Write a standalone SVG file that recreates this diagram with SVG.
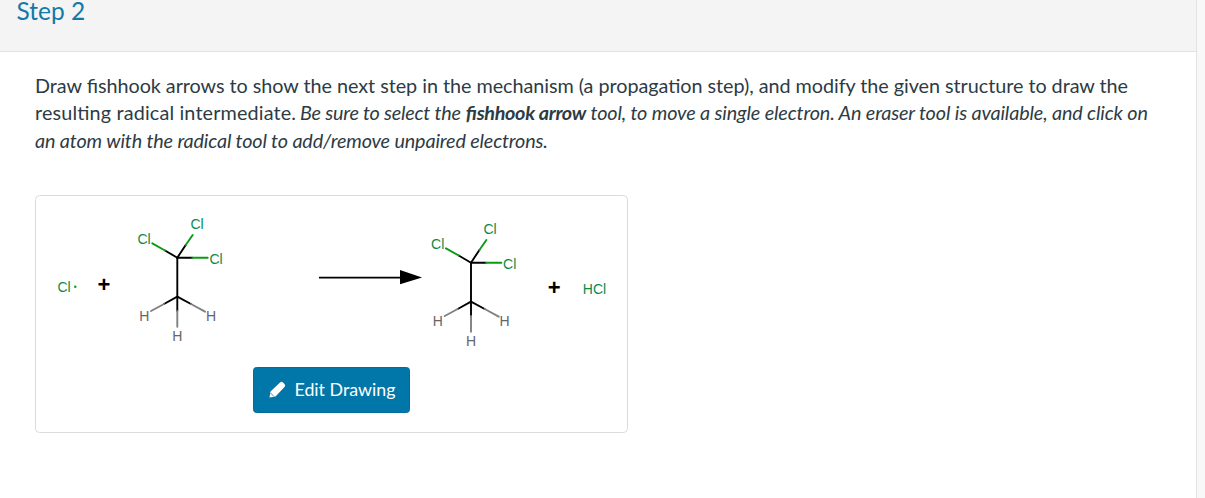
<svg xmlns="http://www.w3.org/2000/svg" width="1205" height="498" viewBox="0 0 1205 498">
<style>
text{font-family:Lato,"Liberation Sans",sans-serif}
.p{font-size:19.8px;fill:#2d3b45}
.i{font-style:italic}
.c{font-family:"Liberation Sans",Arial,sans-serif;font-size:14px;fill:#0b8a4a;text-anchor:middle}
.h{font-family:"Liberation Sans",Arial,sans-serif;font-size:14px;fill:#666;text-anchor:middle}
.k{stroke:#000;stroke-width:1.9;fill:none;stroke-linecap:round}
.g{stroke:#0a9a14;stroke-width:1.9;fill:none;stroke-linecap:round}
.y{stroke:#808080;stroke-width:1.9;fill:none;stroke-linecap:round}
.pl{font-family:"Liberation Sans",Arial,sans-serif;font-size:22px;font-weight:bold;fill:#000;text-anchor:middle}
</style>
<rect width="1205" height="498" fill="#fff"/>
<g id="header">
<rect x="0" y="0" width="1196" height="51" fill="#f4f4f4"/>
<rect x="0" y="51" width="1196" height="1" fill="#e2e2e2"/>
<rect x="1196" y="0" width="1" height="498" fill="#e2e2e2"/>
<rect x="1197" y="0" width="8" height="498" fill="#f8f8f8"/>
<text x="16.500" y="20" font-size="24.500" fill="#1279a8">Step 2</text>
</g>
<g id="question">
<text class="p" x="35" y="93" textLength="1093">Draw fishhook arrows to show the next step in the mechanism (a propagation step), and modify the given structure to draw the</text>
<text class="p" x="35" y="120" textLength="261">resulting radical intermediate.</text>
<text class="p i" x="300" y="120" textLength="161">Be sure to select the</text>
<text class="p i" x="465.500" y="120" textLength="120.500" font-weight="bold">fishhook arrow</text>
<text class="p i" x="590.500" y="120" textLength="557.500">tool, to move a single electron. An eraser tool is available, and click on</text>
<text class="p i" x="35" y="148" textLength="513">an atom with the radical tool to add/remove unpaired electrons.</text>
</g>
<g id="panel"><rect x="35.500" y="195.500" width="592" height="237" rx="4" fill="#fff" stroke="#d8dcdf"/></g>
<g id="reactant-cl">
<text class="c" x="64" y="292">Cl</text><circle cx="75.300" cy="286.700" r="1.200" fill="#0a9a14"/>
</g>
<g id="plus-1"><text class="pl" x="104" y="291.500">+</text></g>
<g id="reactant">
<path class="k" d="M177.300 257.700 L177.300 296.700"/>
<path class="k" d="M177.300 257.700 L185.700 245"/><path class="g" d="M185.700 245 L192.700 235"/>
<path class="k" d="M177.300 257.700 L165 250.500"/><path class="g" d="M165 250.500 L152.300 243.300"/>
<path class="k" d="M177.300 257.700 L192.300 257.700"/><path class="g" d="M192.300 257.700 L207.700 257.700"/>
<path class="k" d="M177.300 296.700 L164 304"/><path class="y" d="M164 304 L151 311"/>
<path class="k" d="M177.300 296.700 L191 304"/><path class="y" d="M191 304 L205 311.700"/>
<path class="k" d="M177.300 296.700 L177.300 311"/><path class="y" d="M177.300 311 L177.300 326.700"/>
<text class="c" x="197" y="229">Cl</text><text class="c" x="144" y="243.500">Cl</text><text class="c" x="216" y="264">Cl</text>
<text class="h" x="144.300" y="321">H</text><text class="h" x="211" y="321">H</text><text class="h" x="177.300" y="341">H</text>
</g>
<g id="connectors">
<path d="M319 277.700 L403 277.700" stroke="#000" stroke-width="1.800" fill="none"/>
<path d="M400 270 L422 277.500 L400 284.300 Z" fill="#000"/>
</g>
<g id="product">
<path class="k" d="M471 262.700 L471 301.700"/>
<path class="k" d="M471 262.700 L479.400 250"/><path class="g" d="M479.400 250 L486.400 240"/>
<path class="k" d="M471 262.700 L458.700 255.500"/><path class="g" d="M458.700 255.500 L446 248.300"/>
<path class="k" d="M471 262.700 L486 262.700"/><path class="g" d="M486 262.700 L501.400 262.700"/>
<path class="k" d="M471 301.700 L457.700 309"/><path class="y" d="M457.700 309 L444.700 316"/>
<path class="k" d="M471 301.700 L484.700 309"/><path class="y" d="M484.700 309 L498.700 316.700"/>
<path class="k" d="M471 301.700 L471 316"/><path class="y" d="M471 316 L471 331.700"/>
<text class="c" x="490" y="234">Cl</text><text class="c" x="437.700" y="248.500">Cl</text><text class="c" x="509.700" y="269">Cl</text>
<text class="h" x="437.700" y="326">H</text><text class="h" x="504.500" y="326">H</text><text class="h" x="471" y="346">H</text>
</g>
<g id="plus-2"><text class="pl" x="554.300" y="294.500">+</text></g>
<g id="hcl"><text class="c" x="594.500" y="293.500">HCl</text></g>
<g id="edit-button">
<rect x="253.500" y="367.500" width="156" height="45" rx="3" fill="#0077a8" stroke="#006c99"/>
<path d="M269.500 397.500 L270.500 391.500 L280 382.500 Q281.500 381 283 382.500 L284.500 384 Q286 385.500 284.500 387 L275.500 396.500 Z" fill="#fff"/>
<path d="M270.500 393 L274 396.500" stroke="#0077a8" stroke-width="0.800" fill="none"/>
<text x="294.500" y="396" font-size="17.800" fill="#fff">Edit Drawing</text>
</g>
</svg>
